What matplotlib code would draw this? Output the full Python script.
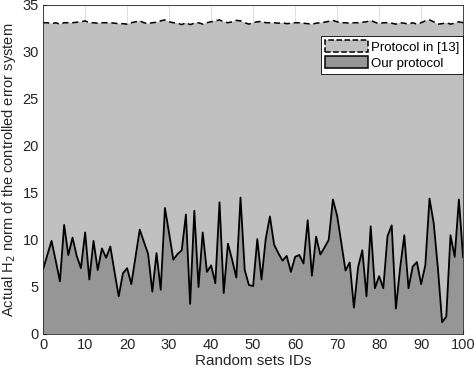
# Actual H2 norm per random set: protocol in [13] vs our protocol (area plot)

import numpy as np
import matplotlib
matplotlib.use("Agg")
import matplotlib.pyplot as plt
from matplotlib.patches import Patch

plt.rcParams["font.family"] = ["Liberation Sans", "DejaVu Sans"]

set_ids = np.arange(0, 101)

# protocol in [13] - stays around 33
h2_ref = [33.1, 33.1, 33.0, 33.1, 32.95, 33.1, 33.1, 33.1, 33.15, 33.2,
          33.3, 33.1, 33.1, 33.05, 33.1, 33.1, 33.1, 33.05, 33.0, 33.0,
          32.95, 33.1, 33.2, 33.3, 33.1, 33.0, 33.1, 33.15, 33.3, 33.4,
          33.2, 33.1, 33.05, 32.9, 33.1, 32.9, 33.05, 33.1, 32.95, 33.1,
          33.2, 33.3, 33.4, 33.2, 33.1, 33.2, 33.35, 33.3, 33.1, 32.95,
          33.1, 33.2, 33.25, 33.1, 33.1, 33.1, 33.05, 33.1, 33.0, 33.05,
          33.1, 33.1, 33.05, 33.0, 32.95, 33.05, 33.1, 33.15, 33.25, 33.35,
          33.2, 33.1, 33.1, 33.05, 33.1, 33.1, 33.15, 33.2, 33.35, 33.15,
          33.0, 33.1, 33.1, 33.05, 32.95, 33.1, 33.05, 32.95, 33.1, 32.95,
          33.1, 33.3, 33.4, 33.2, 32.95, 33.0, 33.1, 32.95, 33.05, 33.2,
          33.1]

# our protocol
h2_ours = [6.9, 8.4, 9.9, 7.8, 5.6, 11.6, 8.4, 10.25, 8.3, 7.0, 10.8,
           5.8, 9.9, 6.8, 9.1, 8.1, 9.3, 6.6, 4.0, 6.45, 7.0,
           5.3, 8.2, 11.1, 9.8, 8.5, 4.5, 8.6, 4.7, 13.4, 10.7,
           7.9, 8.5, 8.9, 12.7, 3.2, 13.1, 5.0, 10.8, 6.6, 7.3,
           5.4, 14.0, 4.35, 9.6, 7.9, 6.0, 14.5, 6.8, 5.2, 5.1,
           10.1, 5.8, 10.1, 12.5, 9.5, 8.6, 7.8, 8.3, 6.6, 8.2,
           8.4, 7.5, 12.1, 6.2, 10.35, 8.45, 9.2, 10.0, 14.3, 12.6,
           9.7, 6.75, 7.6, 2.8, 7.1, 8.9, 4.0, 11.45, 4.86, 6.15,
           4.86, 10.4, 11.55, 2.7, 7.0, 10.5, 4.86, 7.16, 7.65, 5.3,
           7.3, 14.4, 11.8, 7.0, 1.25, 1.85, 10.5, 8.2, 14.3, 8.15]

x_ticks = list(range(0, 101, 10))
y_ticks = list(range(0, 36, 5))

fig = plt.figure(figsize=(4.74, 3.74), dpi=100)
ax = fig.add_axes([0.091, 0.107, 0.886, 0.88])

ax.fill_between(set_ids, 0, h2_ref, facecolor="#c0c0c0", edgecolor="none", zorder=2)
ax.plot(set_ids, h2_ref, color="black", linestyle=(0, (4, 2.5)), linewidth=1.1, zorder=3)
ax.fill_between(set_ids, 0, h2_ours, facecolor="#969696", edgecolor="none", zorder=4)
ax.plot(set_ids, h2_ours, color="black", linewidth=1.3, zorder=5)

ax.set_xlim(0, 100)
ax.set_ylim(0, 35)
ax.set_xticks(x_ticks)
ax.set_yticks(y_ticks)
ax.grid(True, color="#e0e0e0", linewidth=0.8, zorder=0)
ax.set_axisbelow(True)
ax.tick_params(direction="in", length=3, labelsize=10.5, colors="#262626", pad=3)
for s in ax.spines.values():
    s.set_color("#262626")
    s.set_linewidth(0.6)
    s.set_zorder(6)

ax.set_xlabel("Random sets IDs", fontsize=11, color="#262626", labelpad=1)
ax.set_ylabel("Actual H$_2$ norm of the controlled error system", fontsize=10.5,
              color="#262626", labelpad=3)

handles = [Patch(facecolor="#c0c0c0", edgecolor="black", linestyle="--", linewidth=1.1),
           Patch(facecolor="#969696", edgecolor="black", linewidth=1.1)]
leg = ax.legend(handles, ["Protocol in [13]", "Our protocol"], loc="upper right",
                bbox_to_anchor=(1.0, 0.905), fontsize=9.5, frameon=True, fancybox=False,
                edgecolor="black", framealpha=1, borderpad=0.3, labelspacing=0.2,
                handlelength=3.3, handleheight=1.0, handletextpad=0.2, borderaxespad=0.0)
leg.get_frame().set_linewidth(0.6)
leg.set_zorder(10)

fig.savefig("out.png", dpi=100)
